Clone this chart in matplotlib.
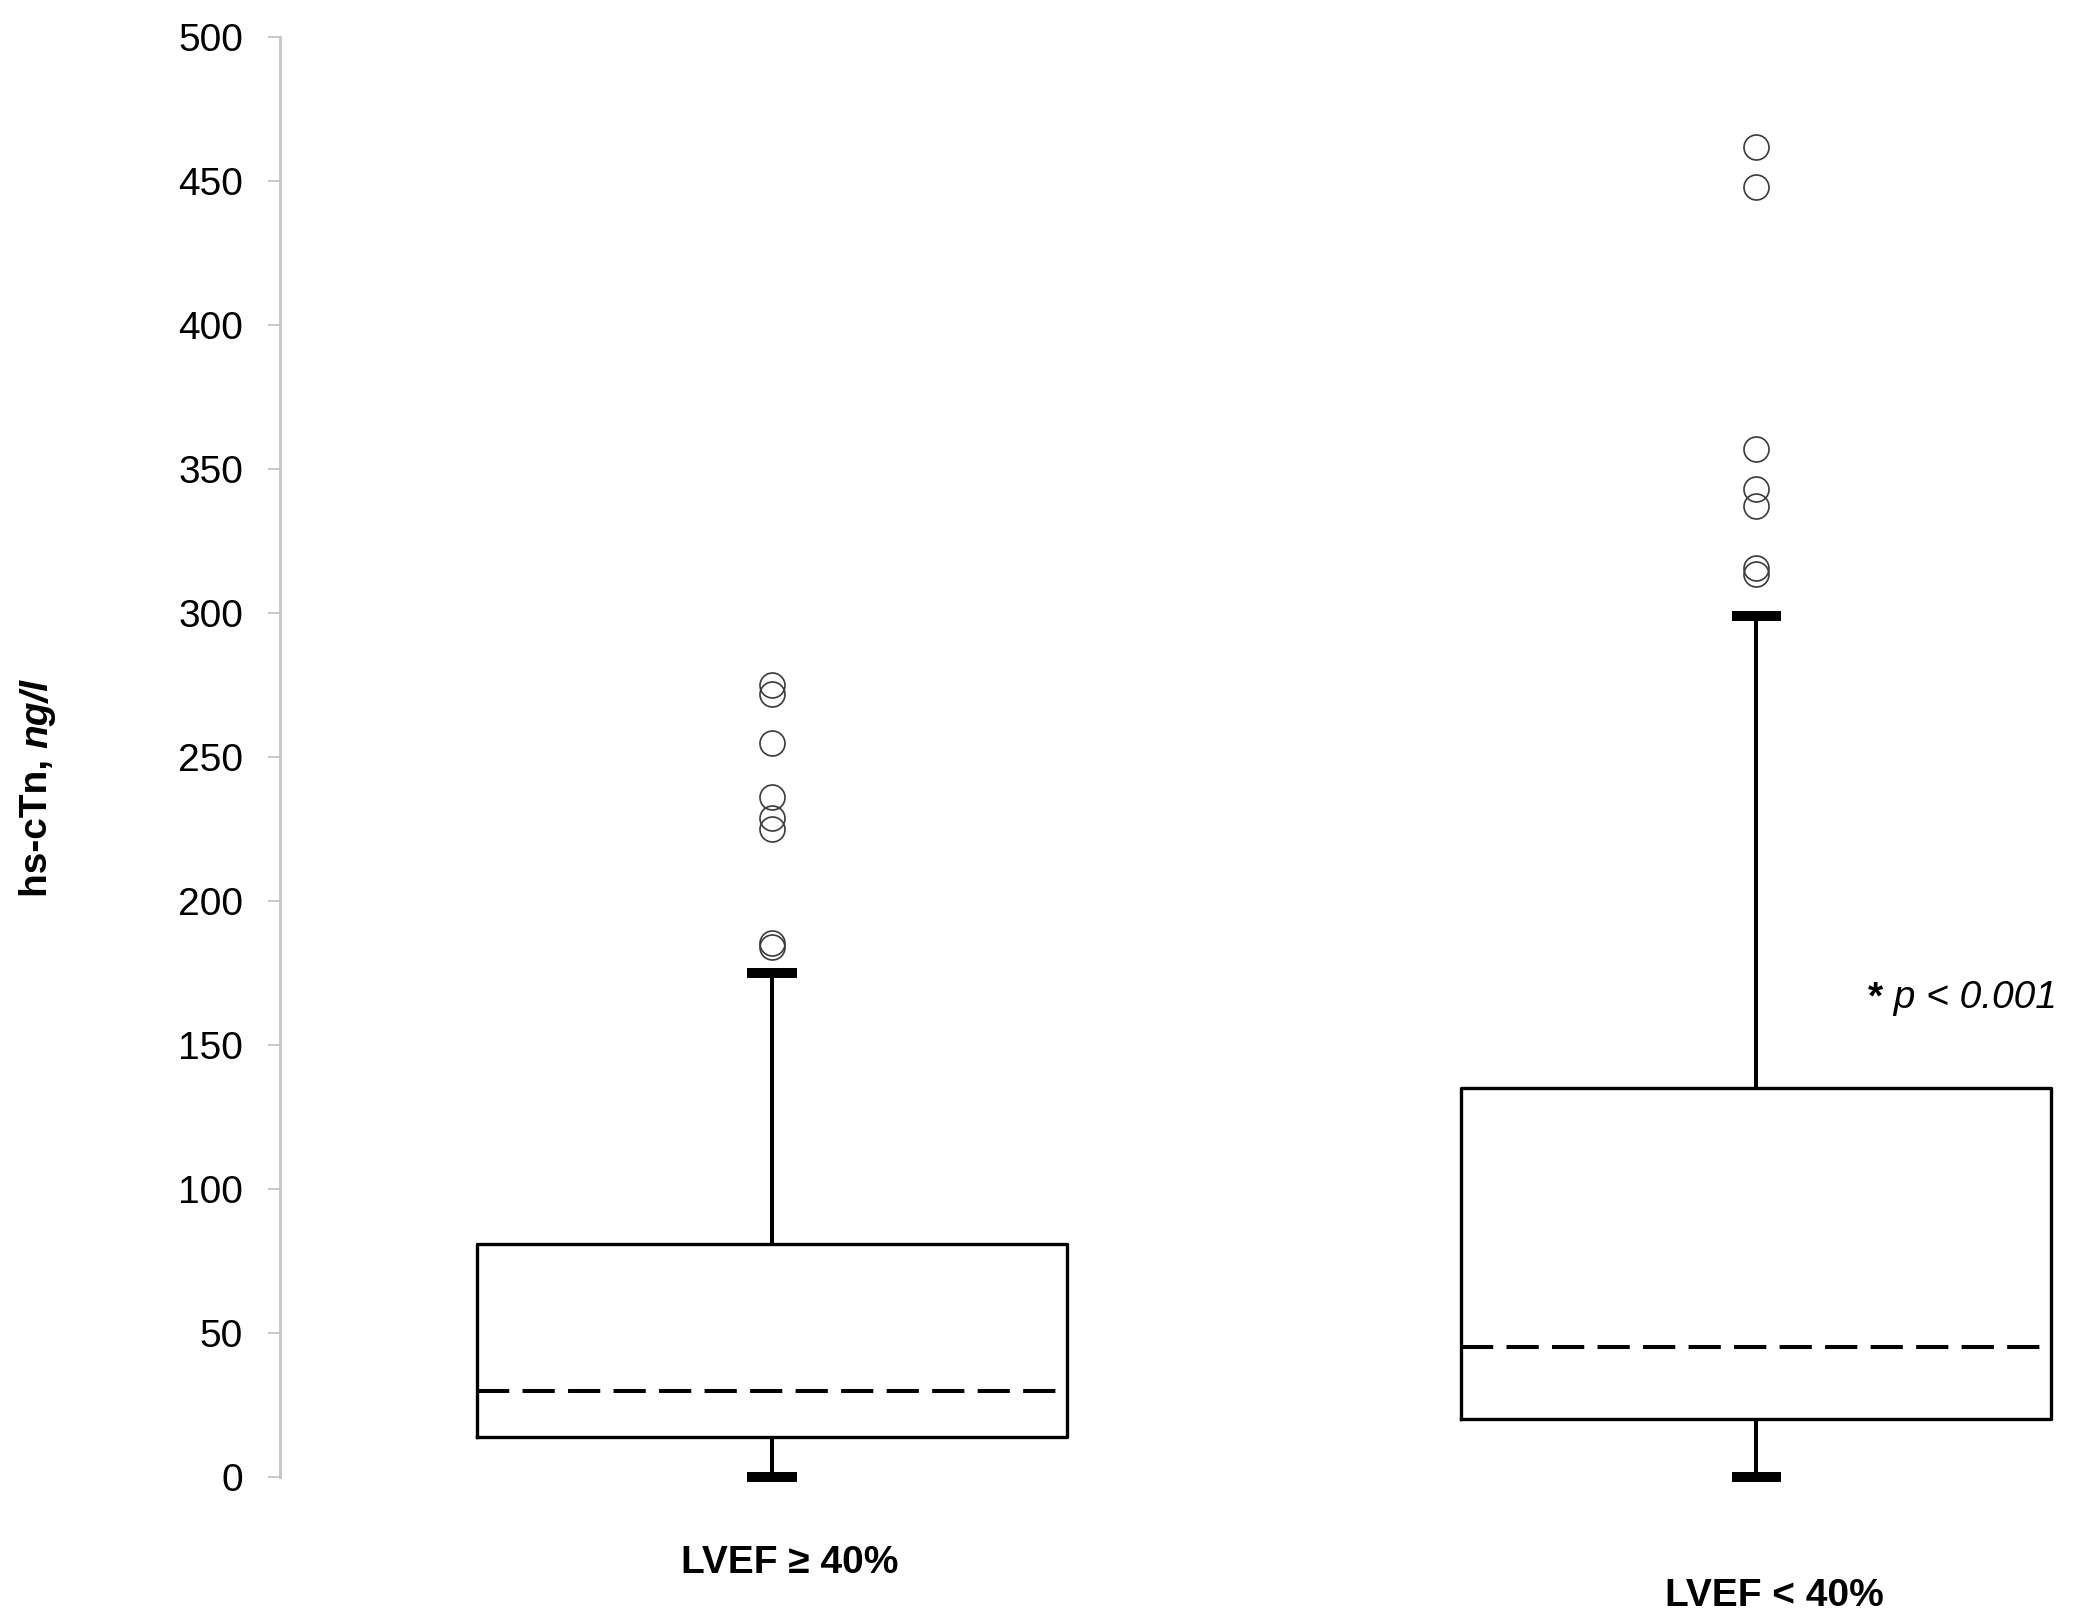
import matplotlib
matplotlib.use("Agg")
import matplotlib.pyplot as plt

plt.rcParams['font.family'] = ['Liberation Sans', 'DejaVu Sans']

# data (hs-cTn, ng/l)
groups = ['LVEF \u2265 40%', 'LVEF < 40%']
q1 = [14, 20]
medians = [30, 45]
q3 = [81, 135]
whis_lo = [0, 0]
whis_hi = [175, 299]
outliers = [
    [275, 272, 255, 236, 229, 225, 185.5, 184],
    [462, 448, 357, 343, 337, 315.5, 313.5],
]
y_ticks = [0, 50, 100, 150, 200, 250, 300, 350, 400, 450, 500]

W, H = 2079, 1619

stats = []
for i in range(len(groups)):
    stats.append({'label': groups[i], 'q1': q1[i], 'med': medians[i], 'q3': q3[i],
                  'whislo': whis_lo[i], 'whishi': whis_hi[i], 'fliers': outliers[i]})

fig = plt.figure(figsize=(W / 100, H / 100), dpi=100)
ax = fig.add_axes([280 / W, 0.0877, 1 - 280 / W, 0.8894])

parts = ax.bxp(stats, positions=[1, 2], widths=0.60, capwidths=0.05,
               boxprops=dict(color='black', linewidth=2.4),
               medianprops=dict(color='black', linewidth=2.9, linestyle=(0, (8, 3.3))),
               whiskerprops=dict(color='black', linewidth=2.9, solid_capstyle='butt'),
               capprops=dict(color='black', linewidth=7.2, solid_capstyle='butt'),
               flierprops=dict(marker='o', markersize=18, markerfacecolor='none',
                               markeredgecolor='#3a3a3a', markeredgewidth=1.2,
                               linestyle='none'))
for art in parts['caps'] + parts['whiskers'] + parts['fliers']:
    art.set_clip_on(False)

ax.set_xlim(0.5, 2.328)
ax.set_ylim(0, 500)
ax.set_yticks(y_ticks)
ax.set_yticklabels([str(v) for v in y_ticks], fontsize=28)
ax.set_xticks([])

for s in ['top', 'right', 'bottom']:
    ax.spines[s].set_visible(False)
ax.spines['left'].set_color('#c8c8c8')
ax.spines['left'].set_linewidth(2.2)
ax.tick_params(axis='y', direction='out', length=8.6, width=1.4, color='#c8c8c8', pad=18)

renderer = fig.canvas.get_renderer()

# y label: bold + bold italic unit
lx = 47 / W
ly = 1 - 897 / H
t1 = fig.text(lx, ly, 'hs-cTn, ', rotation=90, rotation_mode='anchor', fontsize=28,
              fontweight='bold', ha='left', va='baseline')
h1 = t1.get_window_extent(renderer).height
fig.text(lx, ly + h1 / H, 'ng/l', rotation=90, rotation_mode='anchor', fontsize=28,
         fontweight='bold', style='italic', ha='left', va='baseline')

fig.text(790 / W, 1 - 1563 / H, groups[0], fontsize=28, fontweight='bold',
         ha='center', va='center')
fig.text(1774 / W, 1 - 1596 / H, groups[1], fontsize=28, fontweight='bold',
         ha='center', va='center')

# significance note
p_txt = fig.text(2057 / W, 1 - 1008 / H, ' p < 0.001', fontsize=28, style='italic',
                 ha='right', va='baseline')
pw = p_txt.get_window_extent(renderer).width
fig.text((2057 - pw) / W, 1 - 1008 / H, '*', fontsize=28, fontweight='bold',
         ha='right', va='baseline')

fig.savefig('out.png', dpi=100)
